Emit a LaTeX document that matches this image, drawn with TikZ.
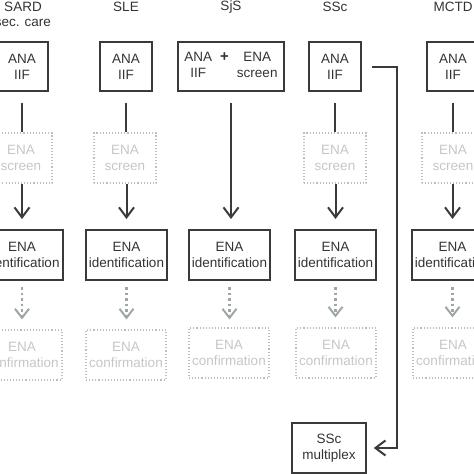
\documentclass[tikz,border=0pt]{standalone}
\usepackage{fontspec}
\setmainfont{Liberation Sans}
\usetikzlibrary{arrows.meta,positioning,calc}
\definecolor{dark}{HTML}{3A3A3A}
\definecolor{txt}{HTML}{333333}
\definecolor{faint}{HTML}{C6C6C6}
\definecolor{faintline}{HTML}{BDBDBD}
\definecolor{dotarr}{HTML}{9FA6A6}
\tikzset{
  every node/.style={font=\fontsize{13.5pt}{16pt}\selectfont, text=txt},
  anabox/.style={draw=dark, line width=1.3pt, minimum width=52pt, minimum height=49pt, align=center, inner sep=0pt},
  idbox/.style={draw=dark, line width=2pt, minimum width=81pt, minimum height=50pt, align=center, inner sep=0pt},
  scrbox/.style={draw=faintline, dotted, line width=1.1pt, minimum width=62pt, minimum height=50pt, align=center, inner sep=0pt, text=faint},
  confbox/.style={draw=faintline, dotted, line width=1.1pt, minimum width=80pt, minimum height=50pt, align=center, inner sep=0pt, text=faint},
  mbox/.style={draw=dark, line width=1.6pt, minimum width=74pt, minimum height=50pt, align=center, inner sep=0pt},
  hdr/.style={align=center, inner sep=0pt},
  sarr/.style={draw=dark, line width=2pt, -{Straight Barb[length=10pt,width=15pt,line width=2pt]}},
  sline/.style={draw=dark, line width=2pt},
  darr/.style={draw=dotarr, line width=2.2pt, dash pattern=on 2.5pt off 3pt, -{Straight Barb[length=9pt,width=14pt,line width=2pt,sep=0pt]}},
}
\begin{document}
\begin{tikzpicture}[x=1pt,y=1pt]
\useasboundingbox (0,0) rectangle (474,-474);
% headers
\node[hdr] (h1) at (23,-7) {SARD};
\node[hdr] (h1b) at (23,-23) {sec. care};
\node[hdr] (h2) at (126,-7) {SLE};
\node[hdr] (h3) at (231,-7) {SjS};
\node[hdr] (h4) at (335,-7) {SSc};
\node[hdr] (h5) at (453,-7) {MCTD};
% ANA boxes
\node[anabox] (a1) at (22,-66.5) {ANA\\IIF};
\node[anabox] (a2) at (126,-66.5) {ANA\\IIF};
\node[anabox, minimum width=106pt] (a3) at (231,-66.5) {\begin{tabular}{@{}c@{\hspace{8pt}}c@{\hspace{8pt}}c@{}}ANA & \textbf{\fontsize{15pt}{16pt}\selectfont +} & ENA\\IIF & & screen\end{tabular}};
\node[anabox] (a4) at (335,-66.5) {ANA\\IIF};
\node[anabox] (a5) at (453,-66.5) {ANA\\IIF};
% screen boxes
\node[scrbox] (s1) at (21,-158) {ENA\\screen};
\node[scrbox] (s2) at (125,-158) {ENA\\screen};
\node[scrbox] (s4) at (335,-158) {ENA\\screen};
\node[scrbox] (s5) at (453,-158) {ENA\\screen};
% identification boxes
\node[idbox] (i1) at (22,-255) {ENA\\identification};
\node[idbox] (i2) at (126.5,-255) {ENA\\identification};
\node[idbox] (i3) at (229.5,-255) {ENA\\identification};
\node[idbox] (i4) at (335.5,-255) {ENA\\identification};
\node[idbox] (i5) at (452.5,-255) {ENA\\identification};
% confirmation boxes
\node[confbox] (c1) at (22,-355) {ENA\\confirmation};
\node[confbox] (c2) at (126,-355) {ENA\\confirmation};
\node[confbox] (c3) at (229,-353) {ENA\\confirmation};
\node[confbox] (c4) at (336,-353) {ENA\\confirmation};
\node[confbox] (c5) at (453,-353) {ENA\\confirmation};
% multiplex
\node[mbox] (m) at (329,-448) {SSc\\multiplex};
% arrows
\foreach \n in {1,2,4,5}{
  \draw[sline, shorten <=11pt] (a\n.south) -- (s\n.north -| a\n.south);
  \draw[sarr, shorten >=10pt] (s\n.south -| i\n.north) -- (i\n.north);
  \draw[darr, shorten <=6pt, shorten >=10pt] (i\n.south) -- (c\n.north -| i\n.south);
}
\draw[sarr, shorten <=11pt, shorten >=10pt] (a3.south) -- (a3.south |- i3.north);
\draw[darr, shorten <=6pt, shorten >=8pt] (i3.south) -- (c3.north -| i3.south);
\draw[sarr] ([xshift=10pt]a4.east) -- ++(25,0) |- ([xshift=7pt]m.east);
\end{tikzpicture}
\end{document}
